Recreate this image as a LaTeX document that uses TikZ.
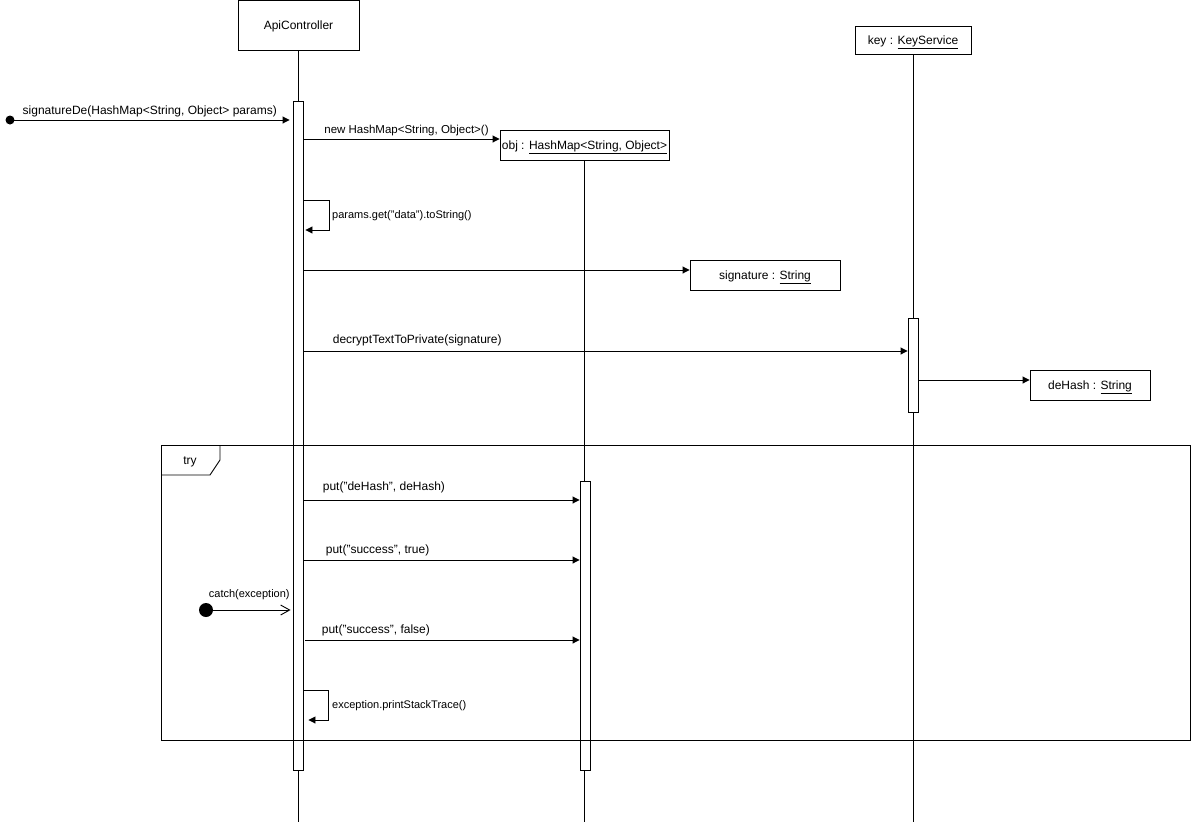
\documentclass[tikz,border=0pt]{standalone}
\usepackage{fontspec}
\setmainfont{Liberation Sans}
\usetikzlibrary{arrows.meta}
\tikzset{
  obj/.style={draw, fill=white, line width=0.9pt, inner sep=0pt, font=\fontsize{12}{14}\selectfont, text height=9pt, text depth=0.5pt},
  act/.style={draw, fill=white, line width=0.9pt, minimum width=10, inner sep=0pt},
  life/.style={line width=0.9pt},
  msg/.style={line width=0.9pt, -{Triangle[length=7,width=7]}},
  ret/.style={line width=0.9pt, -{Straight Barb[length=9,width=10]}},
  lbl/.style={font=\fontsize{12}{14}\selectfont, inner sep=0pt},
  small/.style={font=\fontsize{11}{13}\selectfont, inner sep=0pt},
}
\begin{document}
\begin{tikzpicture}[x=1pt, y=-1pt]
  \useasboundingbox (0,0) rectangle (1191,822);
  % Objets
  \node[obj, minimum width=121, minimum height=50] (api) at (298.5,25) {ApiController};
  \node[obj, minimum width=169, minimum height=30] (map) at (584.5,145) {obj : \underline{HashMap<String, Object>}};
  \node[obj, minimum width=150, minimum height=30] (sig) at (765,275) {signature : \underline{String}};
  \node[obj, minimum width=116, minimum height=28] (key) at (913,40) {key : \underline{KeyService}};
  \node[obj, minimum width=120, minimum height=30] (hash) at (1090,385) {deHash : \underline{String}};
  % Lignes de vie
  \draw[life] (api.south) -- (api.south |- 0,822);
  \draw[life] (map.south) -- (map.south |- 0,822);
  \draw[life] (key.south) -- (key.south |- 0,822);
  % Activations
  \node[act, minimum height=669, anchor=north] (apiact) at (298,101) {};
  \node[act, minimum height=289, anchor=north] (mapact) at (585,481) {};
  \node[act, minimum height=94, anchor=north] (keyact) at (913,318) {};
  % Cadre try
  \draw[line width=0.9pt] (161,445) rectangle (1190,740);
  \draw[line width=0.9pt] (161,475) -- (210,475) -- (220,460) -- (220,445);
  \node[lbl] (try) at (190,462) {try};
  % Messages
  \fill (10,120) circle (4.5) coordinate (start);
  \draw[msg] (start) -- ([xshift=-3]apiact.west |- 0,120)
    node[lbl, midway, above=3pt] {signatureDe(HashMap<String, Object> params)};
  \draw[msg] (apiact.east |- 0,139) -- (map.west |- 0,139)
    node[small, midway, above=3pt, xshift=5, font=\fontsize{11.5}{13}\selectfont] {new HashMap<String, Object>()};
  \draw[msg] (apiact.east |- 0,200) -- (329,200) -- (329,230) -- ([xshift=2]apiact.east |- 0,230);
  \node[small, anchor=west] (get) at (332,216) {params.get("data").toString()};
  \draw[msg] (apiact.east |- 0,270) -- (sig.west |- 0,270);
  \draw[msg] (apiact.east |- 0,351) -- (keyact.west |- 0,351)
    node[lbl, pos=0, anchor=south west, xshift=29, yshift=5] {decryptTextToPrivate(signature)};
  \draw[msg] (keyact.east |- 0,380) -- (hash.west |- 0,380);
  \draw[msg] (apiact.east |- 0,500) -- (mapact.west |- 0,500)
    node[lbl, pos=0, anchor=south west, xshift=19, yshift=7] {put("deHash", deHash)};
  \draw[msg] (apiact.east |- 0,560) -- (mapact.west |- 0,560)
    node[lbl, pos=0, anchor=south west, xshift=22, yshift=4] {put("success", true)};
  \fill (206,610) circle (7) coordinate (catch);
  \draw[ret] (catch) -- ([xshift=-2]apiact.west |- 0,610)
    node[small, midway, above=10pt, xshift=1] {catch(exception)};
  \draw[msg] ([xshift=2]apiact.east |- 0,640) -- (mapact.west |- 0,640)
    node[lbl, pos=0, anchor=south west, xshift=16, yshift=4] {put("success", false)};
  \draw[msg] (apiact.east |- 0,690) -- (328,690) -- (328,720) -- ([xshift=5]apiact.east |- 0,720);
  \node[small, anchor=west] (trace) at (332,706) {exception.printStackTrace()};
\end{tikzpicture}
\end{document}
